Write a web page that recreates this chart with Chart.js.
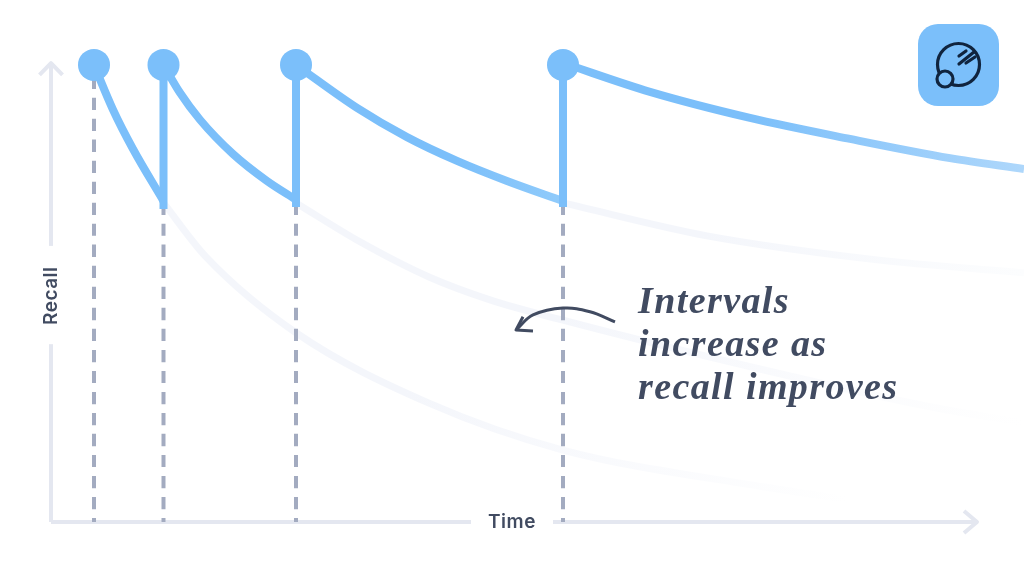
<!DOCTYPE html>
<html>
<head>
<meta charset="utf-8">
<title>Recall over time</title>
<script src="https://cdn.jsdelivr.net/npm/chart.js@4/dist/chart.umd.min.js"></script>
<style>
  html, body { margin: 0; padding: 0; background: #fff; }
  canvas { display: block; }
</style>
</head>
<body>
<canvas id="recallChart" width="1024" height="573"></canvas>
<script>
// time unit = 10px, recall 0-100 between the x axis and the review dots
const reviewTimes = [4.3, 11.25, 24.5, 51.2];
const reviewRecall = [100, 100, 100, 100];
const dipRecall = [68.5, 68.9, 68.9];

const curve1Time = [4.3, 6.2, 8.2, 11.25];
const curve1Recall = [100, 90.2, 81.6, 70.2];
const curve2Time = [11.25, 12.9, 14.9, 18.2, 21.6, 24.5];
const curve2Recall = [100, 93.9, 88, 80.5, 74.6, 70.5];
const curve3Time = [24.5, 30.6, 35.6, 40.6, 45.6, 51.2];
const curve3Recall = [100, 90.6, 84.2, 79, 74.6, 70.2];
const curve4Time = [51.2, 59.9, 69.9, 79.9, 89.9, 97.3];
const curve4Recall = [100.4, 94.1, 88.4, 83.8, 79.6, 77.2];

// forgetting curves if no review happened
const fade1Time = [11.25, 15.5, 24.5, 37.8, 51.1, 71.2, 79.9];
const fade1Recall = [69.8, 58, 41.4, 26, 15.8, 7.7, 4.8];
const fade2Time = [24.5, 30.9, 37.8, 43.9, 51.1, 71.2, 87.9, 97.3];
const fade2Recall = [69.8, 61.3, 53.6, 48.6, 44.2, 33.3, 25.2, 21.7];
const fade3Time = [51.2, 65.6, 82.4, 97.3];
const fade3Recall = [69.8, 62.6, 57.4, 54.5];

const arrowTime = [56.4, 53.9, 51.2, 48.2, 46.6];
const arrowRecall = [43.8, 46, 46.8, 45.3, 42.2];
const arrowHeadTime = [47.2, 46.5, 48.2];
const arrowHeadRecall = [44.9, 42, 41.8];

const yAxisLow = [0, 38.9];
const yAxisHigh = [60.4, 100.4];
const xAxisLow = [0, 42];
const xAxisHigh = [50.2, 92.6];
const yArrowTime = [-1.15, 0, 1.15];
const yArrowRecall = [97.8, 100.4, 97.8];
const xArrowTime = [91.3, 92.6, 91.3];
const xArrowRecall = [2.4, 0, -2.4];

const xLabel = 'Time';
const yLabel = 'Recall';
const noteLines = ['Intervals', 'increase as', 'recall improves'];

const BLUE = '#7bbffa';
const AXIS = '#e4e7f0';
const DASH = '#a3abc0';
const INK = '#414b61';

function pts(xs, ys) {
  return xs.map((x, i) => ({ x: x, y: ys[i] }));
}

function line(data, color, width, extra) {
  return Object.assign({
    data: data, borderColor: color, borderWidth: width, pointRadius: 0,
    fill: false, cubicInterpolationMode: 'monotone', borderCapStyle: 'butt'
  }, extra || {});
}

// horizontal gradient over one dataset's own extent
function fadeTo(from, to, startAt) {
  return function (ctx) {
    const chart = ctx.chart;
    if (!chart.chartArea) return from;
    const d = ctx.dataset.data;
    const x0 = chart.scales.x.getPixelForValue(d[0].x);
    const x1 = chart.scales.x.getPixelForValue(d[d.length - 1].x);
    const g = chart.ctx.createLinearGradient(x0, 0, x1, 0);
    g.addColorStop(0, from);
    g.addColorStop(startAt, from);
    g.addColorStop(1, to);
    return g;
  };
}

const straight = { cubicInterpolationMode: 'default', tension: 0 };
const datasets = [];

// axes
[yAxisLow, yAxisHigh].forEach(a => {
  datasets.push(line(pts([0, 0], a), AXIS, 4));
});
[xAxisLow, xAxisHigh].forEach(a => {
  datasets.push(line(pts(a, [0, 0]), AXIS, 4));
});
datasets.push(line(pts(yArrowTime, yArrowRecall), AXIS, 4, straight));
datasets.push(line(pts(xArrowTime, xArrowRecall), AXIS, 4, straight));

// faded curves
datasets.push(line(pts(fade1Time, fade1Recall), fadeTo('#f4f6fb', '#ffffff', 0.35), 7));
datasets.push(line(pts(fade2Time, fade2Recall), fadeTo('#f4f6fb', '#ffffff', 0.35), 7));
datasets.push(line(pts(fade3Time, fade3Recall), fadeTo('#f4f6fb', '#fcfdfe', 0.3), 7));

// review markers
reviewTimes.forEach(t => {
  datasets.push(line(pts([t, t], [97.4, 0]), DASH, 4, { borderDash: [12.3, 8.7] }));
});

// recall curves
datasets.push(line(pts(curve1Time, curve1Recall), BLUE, 8));
datasets.push(line(pts(curve2Time, curve2Recall), BLUE, 8));
datasets.push(line(pts(curve3Time, curve3Recall), fadeTo(BLUE, '#90cbfb', 0.6), 8));
datasets.push(line(pts(curve4Time, curve4Recall), fadeTo(BLUE, '#aed7fb', 0.4), 8));

// jumps back up after each review
reviewTimes.slice(1).forEach((t, i) => {
  datasets.push(line(pts([t, t], [reviewRecall[i + 1], dipRecall[i]]), BLUE, 8));
});

datasets.push({
  data: pts(reviewTimes, reviewRecall), showLine: false,
  pointRadius: 16, pointHoverRadius: 16, pointBackgroundColor: BLUE, pointBorderWidth: 0
});

// note arrow
datasets.push(line(pts(arrowTime, arrowRecall), INK, 3, { cubicInterpolationMode: 'default', tension: 0.4 }));
datasets.push(line(pts(arrowHeadTime, arrowHeadRecall), INK, 3, straight));

// Chart.js paints index 0 last, so flip to keep the order above
datasets.reverse();

const labelsPlugin = {
  id: 'labels',
  afterDatasetsDraw(chart) {
    const c = chart.ctx;
    const sx = chart.scales.x, sy = chart.scales.y;
    c.save();
    c.fillStyle = INK;
    c.textAlign = 'center';
    c.textBaseline = 'middle';
    c.font = '600 19px Inter';
    c.letterSpacing = '0.5px';
    c.fillText(xLabel, sx.getPixelForValue(46.1), sy.getPixelForValue(0));
    c.save();
    c.translate(sx.getPixelForValue(0), sy.getPixelForValue(49.5));
    c.rotate(-Math.PI / 2);
    c.fillText(yLabel, 0, 0);
    c.restore();

    c.letterSpacing = '1.4px';
    c.textAlign = 'left';
    c.font = 'italic 700 38px "Liberation Serif"';
    const noteY = [303, 346, 389];
    noteLines.forEach((t, i) => {
      c.fillText(t, 638, noteY[i]);
    });
    c.letterSpacing = '0px';

    // app badge, top right
    c.fillStyle = BLUE;
    c.beginPath();
    c.roundRect(918, 24, 81, 82, 20);
    c.fill();
    c.strokeStyle = '#10243e';
    c.lineWidth = 3.2;
    c.lineCap = 'round';
    c.beginPath();
    c.arc(958.5, 64.5, 21, 0, Math.PI * 2);
    c.stroke();
    [[959, 56, 966, 51], [959, 64, 974, 52], [966, 63, 975, 57]].forEach(h => {
      c.beginPath();
      c.moveTo(h[0], h[1]);
      c.lineTo(h[2], h[3]);
      c.stroke();
    });
    c.fillStyle = BLUE;
    c.beginPath();
    c.arc(945, 79, 8, 0, Math.PI * 2);
    c.fill();
    c.stroke();
    c.restore();
  }
};

new Chart(document.getElementById('recallChart'), {
  type: 'line',
  data: { datasets: datasets },
  options: {
    responsive: false,
    animation: false,
    layout: { padding: 0, autoPadding: false },
    plugins: { legend: { display: false }, tooltip: { enabled: false } },
    elements: { line: { borderJoinStyle: 'round' } },
    scales: {
      x: { type: 'linear', display: false, min: -5.1, max: 97.3 },
      y: { type: 'linear', display: false, min: -11.16, max: 114.2 }
    }
  },
  plugins: [labelsPlugin]
});
</script>
</body>
</html>
